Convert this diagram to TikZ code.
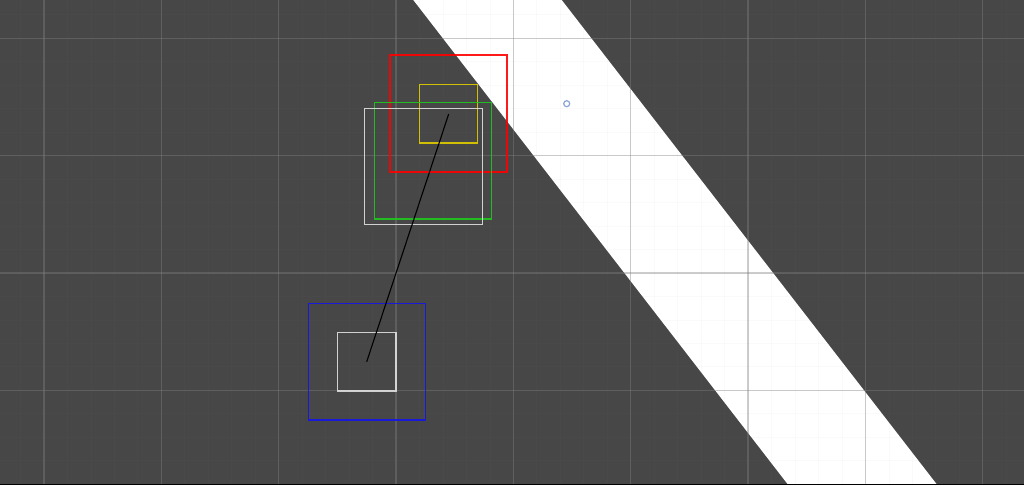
\documentclass[tikz,border=0pt]{standalone}
\begin{document}
\begin{tikzpicture}[x=1pt,y=-1pt,
  gridmajor/.style={draw=gray,draw opacity=0.4,line width=1.2pt},
  gridminor/.style={draw=gray,draw opacity=0.04,line width=0.8pt},
  box/.style={line width=1.35pt,draw opacity=0.9},
  link/.style={draw=black,line width=1.1pt}]
\definecolor{bgdark}{RGB}{71,71,71}
\definecolor{boxyellow}{RGB}{225,205,0}
\definecolor{boxgreen}{RGB}{30,200,30}
\definecolor{boxblue}{RGB}{20,20,235}
\definecolor{boxwhite}{RGB}{225,225,225}
\definecolor{dotblue}{RGB}{140,165,215}
\useasboundingbox (0,0) rectangle (1024,485);
\fill[bgdark] (0,0) rectangle (1024,485);
% white diagonal band
\fill[white] (413.3,0) -- (561.7,0) -- (937.3,485) -- (788.3,485) -- cycle;
% minor grid
\foreach \i in {-1,...,45} {
  \draw[gridminor] ({44+23.47*\i},0) -- ({44+23.47*\i},485);
}
\foreach \j in {-1,...,20} {
  \draw[gridminor] (0,{38.3+23.47*\j}) -- (1024,{38.3+23.47*\j});
}
% major grid
\foreach \i in {0,...,8} {
  \draw[gridmajor] ({44+117.33*\i},0) -- ({44+117.33*\i},485);
}
\foreach \j in {0,...,3} {
  \draw[gridmajor] (0,{38.3+117.33*\j}) -- (1024,{38.3+117.33*\j});
}
% rectangles
\node[box,line width=1.2pt,draw=red,inner sep=0pt,minimum width=117pt,minimum height=117pt] (red) at (448.5,113.5) {};
\node[box,draw=boxyellow,inner sep=0pt,minimum width=58.4pt,minimum height=58.7pt] (yellow) at (448.5,113.7) {};
\node[box,draw=boxgreen,inner sep=0pt,minimum width=117.4pt,minimum height=116.7pt] (green) at (433,160.7) {};
\node[box,draw=boxwhite,inner sep=0pt,minimum width=117.6pt,minimum height=116.4pt] (whitebig) at (423.5,166.5) {};
\node[box,draw=boxblue,inner sep=0pt,minimum width=117pt,minimum height=116.3pt] (blue) at (366.8,361.8) {};
\node[box,draw=boxwhite,inner sep=0pt,minimum width=58.7pt,minimum height=58.3pt] (whitesmall) at (366.7,361.8) {};
% connector between centres
\coordinate (top) at (448.7,114);
\coordinate (bot) at (366.7,361.7);
\draw[link] (top) -- (bot);
% small circle
\node[circle,draw=dotblue,line width=1.2pt,inner sep=0pt,minimum size=6pt] (dot) at (566.7,103.7) {};
% bottom edge line
\draw[black,line width=1.2pt] (0,484.4) -- (1024,484.4);
\end{tikzpicture}
\end{document}
